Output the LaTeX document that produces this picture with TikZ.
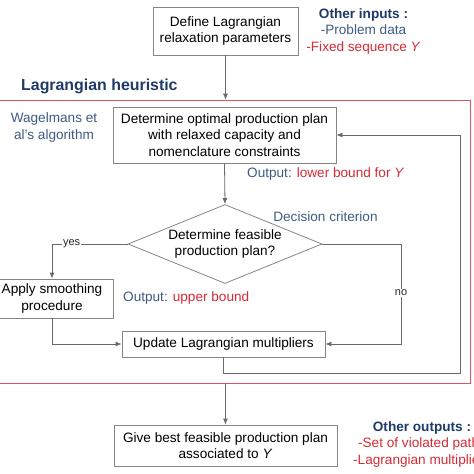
\documentclass[tikz,border=0pt]{standalone}
\usepackage{fontspec}
\setmainfont{Liberation Sans}
\usetikzlibrary{shapes.geometric,arrows.meta}
\definecolor{navy}{HTML}{1F3A68}
\definecolor{slate}{HTML}{3E5B84}
\definecolor{alert}{HTML}{D42A35}
\definecolor{edgegray}{HTML}{6A6A6A}
\definecolor{boxgray}{HTML}{858585}
\tikzset{
  flow/.style={draw=boxgray, line width=0.8pt, align=center, inner sep=0pt},
  link/.style={draw=edgegray, line width=0.8pt, -{Latex[length=6pt,width=5pt]}},
  tag/.style={fill=white, inner sep=1pt, text=black!85},
  note/.style={align=center, inner sep=0pt, text=slate}
}
\def\flowbox(#1,#2,#3,#4,#5,#6){
  \node[flow, minimum width=#4, minimum height=#5] (#1) at (#2,#3) {#6};
}
\begin{document}
\begin{tikzpicture}[x=1pt,y=-1pt,
  font=\fontsize{13.6}{16.5}\selectfont]
\useasboundingbox (0,0) rectangle (474,474);
\clip (0,0) rectangle (474,474);
\node[draw=alert!80, line width=0.6pt, minimum width=472, minimum height=283, inner sep=0pt] (heur) at (234,241.5) {};
\flowbox(define,225.5,31,145,48,Define Lagrangian\\relaxation parameters)
\flowbox(relax,224.5,135,223,56,Determine optimal production plan\\with relaxed capacity and\\nomenclature constraints)
\node[flow, shape=diamond, aspect=2.45, minimum width=194, minimum height=79] (feas) at (225,244) {Determine feasible\\production plan?};
\flowbox(apply,52,298.5,122,39,Apply smoothing\\procedure)
\flowbox(update,223.5,344,203,26,Update Lagrangian multipliers)
\flowbox(best,225.5,445.5,223,41,Give best feasible production plan\\associated to \textit{Y})
\coordinate (nobend) at (401,244);
\coordinate (fbk) at (460,373);
% connectors
\draw[link] (define.south) -- (define.south |- heur.north);
\draw[link] (relax.south) -- (feas.north);
\draw[link] (feas.west) -| node[tag, pos=0.37, font=\fontsize{11}{13}\selectfont] {yes} (apply.north);
\draw[link] (feas.east) -- (nobend) |- node[tag, pos=0.245, font=\fontsize{11}{13}\selectfont] {no} (update.east);
\draw[link] (apply.south) |- (update.west);
\draw[link] (update.south) |- (fbk) |- (relax.east);
\draw[link] (heur.south -| best.north) -- (best.north);
% texts
\node[note] (inputs) at (363.5,31) {\textbf{\textcolor{navy}{Other inputs :}}\\-Problem data\\\textcolor{alert}{-Fixed sequence \textit{Y}}};
\node[note, anchor=west, text=navy, font=\fontsize{15.9}{18}\selectfont\bfseries] (heurtitle) at (21,86) {Lagrangian heuristic};
\node[note] (wagel) at (54,127.5) {Wagelmans et\\al's algorithm};
\node[note, anchor=west] (lower) at (247,174) {Output: \textcolor{alert}{lower bound for \textit{Y}}};
\node[note] (crit) at (325.5,217) {Decision criterion};
\node[note, anchor=west] (upper) at (123,298) {Output: \textcolor{alert}{upper bound}};
\node[note, text=alert] (outputs) at (422,444) {\textbf{\textcolor{navy}{Other outputs :}}\\-Set of violated paths\\-Lagrangian multipliers};
\end{tikzpicture}
\end{document}
